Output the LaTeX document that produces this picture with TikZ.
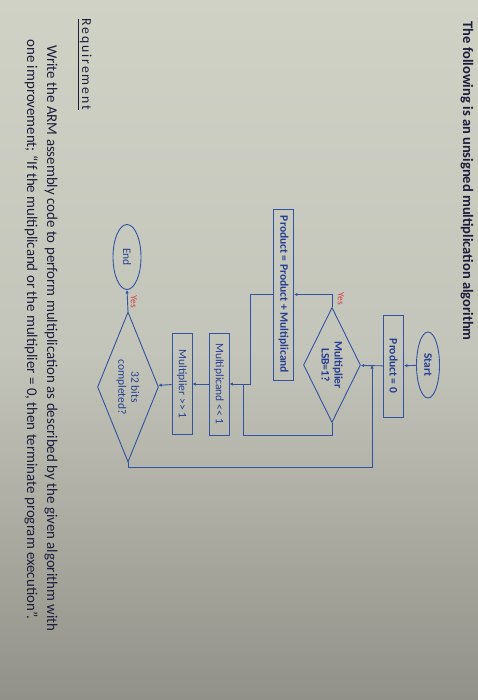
\documentclass[tikz,border=0pt]{standalone}
\usepackage{fontspec}
\setmainfont{Carlito}
\newfontfamily\reqfont[LetterSpace=14]{Carlito}
\usetikzlibrary{calc,shapes.geometric,arrows.meta}
\definecolor{bgtop}{RGB}{208,210,198}
\definecolor{bgmid}{RGB}{196,197,186}
\definecolor{bgbot}{RGB}{146,145,137}
\definecolor{flowblue}{RGB}{52,82,160}
\definecolor{flowtext}{RGB}{38,62,145}
\definecolor{inkdark}{RGB}{28,30,58}
\definecolor{yesred}{RGB}{205,62,70}
\tikzset{
  term/.style={ellipse, draw=flowblue, line width=0.9pt, inner sep=0pt, text=flowtext, font=\fontsize{11.5}{13}\selectfont},
  proc/.style={rectangle, draw=flowblue, line width=0.9pt, minimum height=20, inner sep=0pt, text=flowtext, font=\fontsize{11.5}{13}\selectfont},
  decide/.style={diamond, draw=flowblue, line width=0.9pt, inner sep=0pt, shape aspect=2.5, align=center, text=flowtext, font=\fontsize{11.5}{13}\selectfont},
  arr/.style={draw=flowblue, line width=0.9pt, -{Latex[length=3.5pt,width=3.5pt]}},
  wire/.style={draw=flowblue, line width=0.9pt},
  yeslbl/.style={text=yesred, font=\fontsize{9.5}{10}\selectfont, inner sep=0pt}
}

\begin{document}
\begin{tikzpicture}[x=1pt,y=1pt]
			%%%%% START %%%%%
			\shade[top color=bgtop, bottom color=bgbot, middle color=bgmid] (0,0) rectangle (478,-700);
			\useasboundingbox (0,0) rectangle (478,-700);
			
			\begin{scope}[shift={(478,0)}, rotate=-90, transform shape]
			\node[anchor=base west, text=inkdark, font=\bfseries\fontsize{14.5}{16}\selectfont] (title) at (18,-15) {The following is an unsigned multiplication algorithm};
			
			\node[term, font=\bfseries\fontsize{11.5}{13}\selectfont, minimum width=66, minimum height=23] (start) at (365,-50) {Start};
			\node[proc, font=\bfseries\fontsize{11.5}{13}\selectfont, minimum width=102] (init) at (366,-84.5) {Product = 0};
			\node[decide, font=\bfseries\fontsize{11.5}{13}\selectfont, minimum width=115, minimum height=57] (lsb) at (365,-146) {Multiplier\\LSB=1?};
			\node[proc, font=\bfseries\fontsize{11.5}{13}\selectfont, minimum width=171] (add) at (294.5,-194.5) {Product = Product + Multiplicand};
			\node[proc, minimum width=102] (shl) at (384,-259) {Multiplicand <\kern0pt< 1};
			\node[proc, minimum width=101] (shr) at (384,-296) {Multiplier >\kern0pt> 1};
			\node[decide, minimum width=150, minimum height=61] (done) at (387,-350) {32 bits\\completed?};
			\node[term, minimum width=65, minimum height=28] (end) at (257,-351) {End};
			
			\coordinate (loop) at (365,-106);
			\coordinate (merge) at (384,-235);
			
			\draw[arr] (start) -- (init);
			\draw[arr] (init) -- (lsb);
			\draw[arr] (lsb.west) -| (add.north);
			\node[yeslbl] (yes1) at (299,-137) {Yes};
			\draw[arr] (add.south) -- ++(0,-23) -| (shl.north);
			\draw[wire] (lsb.east) -- ++(12,0) |- (merge);
			\draw[arr] (shl) -- (shr);
			\draw[arr] (shr) -- (done);
			\draw[arr] (done.west) -- (end.east);
			\node[yeslbl] (yes2) at (302,-344) {Yes};
			\draw[arr] (done.east) -- ++(5,0) |- (loop);
			
			\node[anchor=base west, text=inkdark, font=\reqfont\fontsize{13.7}{15}\selectfont] (req) at (15,-396) {\underline{Requirement}};
			\node[anchor=base west, text=inkdark, font=\fontsize{14.9}{16}\selectfont] (task1) at (42,-431) {Write the ARM assembly code to perform multiplication as described by the given algorithm with};
			\node[anchor=base west, text=inkdark, font=\fontsize{14.9}{16}\selectfont] (task2) at (36,-451) {one improvement; ``If the multiplicand or the multiplier = 0, then terminate program execution''.};
			\end{scope}
			%%%%% END %%%%%
\end{tikzpicture}
\end{document}
